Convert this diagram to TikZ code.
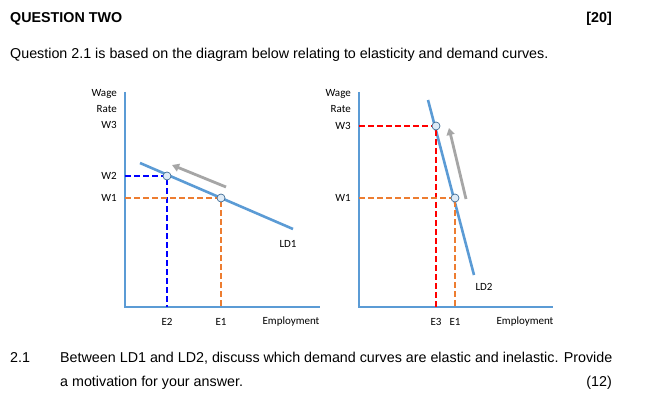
\documentclass[tikz,border=0pt]{standalone}
\usepackage{fontspec}
\setmainfont{Liberation Sans}
\newfontfamily\carlitofnt{Carlito}
\usetikzlibrary{arrows.meta}
\definecolor{ax}{HTML}{5B9BD5}
\definecolor{org}{HTML}{ED7D31}
\tikzset{
 axis/.style={ax,line width=2.8pt},
 curve/.style={ax,line width=2.6pt},
 dsh/.style={line width=2pt,dash pattern=on 6pt off 3pt},
 pt/.style={circle,draw=ax!70!black,fill=ax!20,inner sep=0pt,minimum size=8pt,line width=0.7pt},
 lab/.style={font=\carlitofnt\fontsize{11}{12}\selectfont,inner sep=0pt},
 txt/.style={font=\fontsize{14.3}{16}\selectfont,inner sep=0pt,anchor=base west},
 mv/.style={gray!70,line width=2.8pt,-{Triangle[length=7pt,width=8pt]}}
}
\begin{document}
\begin{tikzpicture}[x=1pt,y=-1pt]
\useasboundingbox (0,0) rectangle (666,406);
\node[txt,font=\bfseries\fontsize{14.3}{16}\selectfont] (qt) at (10,23) {QUESTION TWO};
\node[txt,font=\bfseries\fontsize{14.3}{16}\selectfont,anchor=base east] (mk) at (612,23) {[20]};
\node[txt] (q21) at (10,59) {Question 2.1 is based on the diagram below relating to elasticity and demand curves.};
\node[txt] (n21) at (10,362) {2.1};
\node[txt] (l1) at (60,362) {Between LD1 and LD2, discuss which demand curves are elastic and inelastic. Provide};
\node[txt] (l2) at (60,386) {a motivation for your answer.};
\node[txt,anchor=base east] (pts) at (612,386) {(12)};
% left chart
\coordinate (o1) at (125,307); \coordinate (t1) at (125,92); \coordinate (r1) at (320,307);
\draw[axis] (t1) -- (o1) -- (r1);
\coordinate (a1) at (140,163); \coordinate (b1) at (293,229);
\draw[curve] (a1) -- (b1);
\coordinate (y2) at (125,176); \coordinate (y1) at (125,198);
\coordinate (x2) at (167,307); \coordinate (x1) at (221,307);
\draw[dsh,blue] (y2) -- (167,176) -- (x2);
\draw[dsh,org] (y1) -- (221,198) -- (x1);
\node[pt] (p2) at (167,176) {};
\node[pt] (p1) at (221,198) {};
\coordinate (g1s) at (226,187); \coordinate (g1e) at (172,165);
\draw[mv] (g1s) -- (g1e);
\node[lab,anchor=east] (wg1) at (117,94) {Wage};
\node[lab,anchor=east] (rt1) at (117,109) {Rate};
\node[lab,anchor=east] (w31) at (117,125) {W3};
\node[lab,anchor=east] (w21) at (117,176) {W2};
\node[lab,anchor=east] (w11) at (117,198) {W1};
\node[lab] (ld1) at (288,244) {LD1};
\node[lab] (e2) at (167,322) {E2};
\node[lab] (e1) at (221,322) {E1};
\node[lab] (emp1) at (291,322) {Employment};
% right chart
\coordinate (o2) at (359,307); \coordinate (t2) at (359,92); \coordinate (r2) at (553,307);
\draw[axis] (t2) -- (o2) -- (r2);
\coordinate (a2) at (428,100); \coordinate (b2) at (474,275);
\draw[curve] (a2) -- (b2);
\coordinate (y3) at (359,126); \coordinate (y1b) at (359,198);
\coordinate (x3) at (436,307); \coordinate (x1b) at (455,307);
\draw[dsh,red] (y3) -- (436,126) -- (x3);
\draw[dsh,org] (y1b) -- (455,198) -- (x1b);
\node[pt] (p3) at (436,126) {};
\node[pt] (p4) at (455,198) {};
\coordinate (g2s) at (466,199); \coordinate (g2e) at (449,128);
\draw[mv] (g2s) -- (g2e);
\node[lab,anchor=east] (wg2) at (351,94) {Wage};
\node[lab,anchor=east] (rt2) at (351,109) {Rate};
\node[lab,anchor=east] (w32) at (351,126) {W3};
\node[lab,anchor=east] (w12) at (351,198) {W1};
\node[lab] (ld2) at (484,287) {LD2};
\node[lab] (e3) at (436,322) {E3};
\node[lab] (e1b) at (455,322) {E1};
\node[lab] (emp2) at (525,322) {Employment};
\end{tikzpicture}
\end{document}
